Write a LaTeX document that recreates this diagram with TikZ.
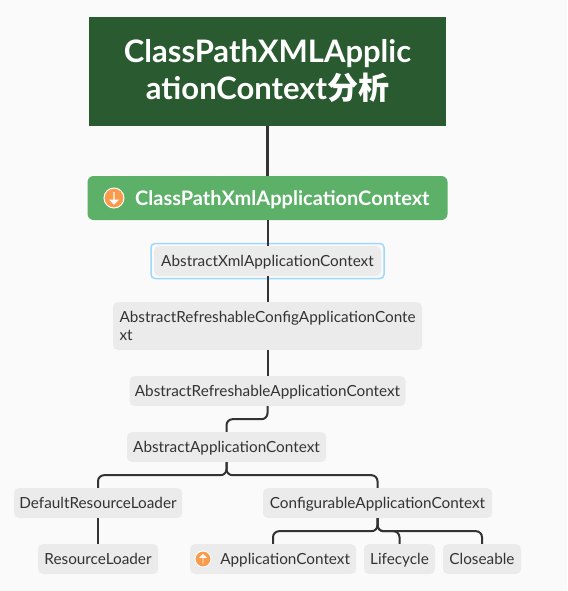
\documentclass[tikz,border=0pt]{standalone}
\usepackage{fontspec}
\setmainfont{Lato}
\newfontfamily\cjk{Noto Sans CJK SC}
\usetikzlibrary{shapes.arrows}
\definecolor{pagebg}{HTML}{FAFAFA}
\definecolor{titlegreen}{HTML}{2A5A2F}
\definecolor{rootgreen}{HTML}{5CB068}
\definecolor{topicgray}{HTML}{EBEBEB}
\definecolor{inkgray}{HTML}{333333}
\definecolor{selblue}{HTML}{9ED8FB}
\definecolor{iconorange}{HTML}{FA9A4B}

\begin{document}
\begin{tikzpicture}[
  x=1pt, y=-1pt,
  title/.style={rectangle, fill=titlegreen, text=white, minimum width=357pt, minimum height=109pt,
                font=\fontsize{31}{37}\selectfont\bfseries, align=center, inner sep=0pt},
  root/.style={rectangle, rounded corners=6pt, fill=rootgreen, text=white, minimum height=44pt,
               font=\fontsize{20}{24}\selectfont\bfseries, text width=324pt, align=right, inner xsep=18pt, inner ysep=0pt,
               text height=17pt, text depth=3pt},
  topic/.style={rectangle, rounded corners=5pt, fill=topicgray, text=inkgray, minimum width=#1, minimum height=30pt,
                font=\fontsize{15.3}{18}\selectfont, inner sep=0pt, text height=13pt, text depth=1.5pt},
  topic/.default=100pt,
  sel/.style={rectangle, rounded corners=4pt, draw=selblue, line width=1.5pt, fill=pagebg,
              minimum width=233pt, minimum height=35pt},
  icon/.style={circle, fill=iconorange, draw=white, line width=1pt, minimum size=#1, inner sep=0pt},
  arr/.style={single arrow, fill=white, single arrow head extend=1.5pt, single arrow tip angle=90,
              minimum width=#1, minimum height=1.25*#1, inner sep=0pt},
  link/.style={draw=inkgray, line width=2pt, rounded corners=6pt},
]
\useasboundingbox[fill=pagebg] (0,0) rectangle (567,591);

% ================= NODES (explicit coords, px) =================
\node[title]                 (title)     at (267.5,71.5) {ClassPathXMLApplic\\ationContext{\cjk 分析}};
\node[root]                  (cpxac)     at (267.5,198)  {ClassPathXmlApplicationContext};
\node[icon=20pt]             (cpxicon)   at (114,198)    {};
\node[arr=10pt, rotate=-90]  (cpxarrow)  at (114,198)    {};

\node[sel]                   (axacsel)   at (267.5,261)  {};
\node[topic=227pt]           (axac)      at (267.5,261)  {AbstractXmlApplicationContext};

\node[topic=309pt, minimum height=48pt, align=left, text width=296pt, inner xsep=6.5pt, text height=, text depth=]
                             (arcac)     at (267.5,326)  {AbstractRefreshableConfigApplicationConte\\xt};
\node[topic=276pt]           (arac)      at (267.5,391)  {AbstractRefreshableApplicationContext};
\node[topic=199pt]           (aac)       at (226.5,447)  {AbstractApplicationContext};

\node[topic=168pt]           (drl)       at (98,503)     {DefaultResourceLoader};
\node[topic=229pt]           (cac)       at (377.5,503)  {ConfigurableApplicationContext};

\node[topic=120pt]           (rl)        at (98,559)     {ResourceLoader};
\node[topic=166pt, align=right, text width=154pt, inner xsep=6pt]
                             (ac)        at (273,559)    {ApplicationContext};
\node[icon=16pt]             (acicon)    at (203,559)    {};
\node[arr=8pt, rotate=90]    (acarrow)   at (203,559)    {};
\node[topic=71pt]            (lc)        at (399.5,559)  {Lifecycle};
\node[topic=78pt]            (cl)        at (482,559)    {Closeable};

% ================= EDGES =================
\draw[link, line width=3pt] (title) -- (cpxac);
\draw[link] (cpxac) -- (axac);
\draw[link] (axac) -- (arcac);
\draw[link] (arcac) -- (arac);
\draw[link] (arac.south) -- ++(0,13) -| (aac.north);

\draw[link] (aac.south) -- ++(0,13) -| (drl.north);
\draw[link] (aac.south) -- ++(0,13) -| (cac.north);
\draw[link] (drl) -- (rl);

\draw[link] (cac.south) -- ++(0,13) -| (ac.north);
\draw[link] (cac.south) -- ++(0,13) -| (lc.north);
\draw[link] (cac.south) -- ++(0,13) -| (cl.north);

\end{tikzpicture}
\end{document}
